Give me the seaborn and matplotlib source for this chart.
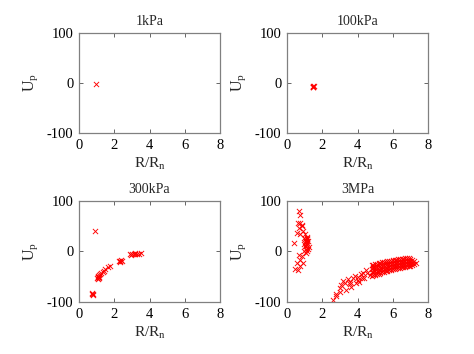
import matplotlib
matplotlib.use("Agg")
import matplotlib.pyplot as plt
import seaborn as sns
import pandas as pd

# Panel by panel (R/Rn, Up)
titles = ["1kPa", "100kPa", "300kPa", "3MPa"]

x_1kpa = [0.95]
y_1kpa = [-2]

x_100kpa = [1.45, 1.50, 1.48, 1.52, 1.47]
y_100kpa = [-7, -8, -9, -7, -8]

x_300kpa = [0.90, 0.75, 0.78, 0.72, 0.80,
            1.05, 1.10, 1.15, 1.10, 1.20, 1.00, 1.15, 1.25, 1.08, 1.12,
            1.35, 1.40, 1.50, 1.65, 1.75,
            2.25, 2.30, 2.35, 2.40, 2.45,
            2.90, 2.95, 3.00, 3.10, 3.15, 3.20, 3.30, 3.40, 3.50]
y_300kpa = [41, -82, -86, -85, -84,
            -50, -48, -52, -55, -45, -53, -47, -43, -51, -50,
            -40, -38, -35, -30, -28,
            -19, -18, -20, -17, -18,
            -5, -6, -4, -5, -3, -4, -5, -4, -3]

# 3MPa: left lobe near R/Rn ~ 1, then the long band on the right
x_3mpa_left = [0.66, 0.71, 0.75, 0.85, 0.66, 0.90, 1.03, 0.75, 0.94, 0.38,
               1.13, 1.16, 1.09, 1.22, 1.13, 0.94, 0.66, 0.85, 0.75, 0.56,
               0.90, 0.71, 0.47, 0.60, 0.64, 0.83, 0.55, 1.11, 1.05, 1.05,
               1.10, 1.15, 1.20, 1.10, 1.00, 1.05, 1.20, 1.15, 1.00, 0.95]
y_3mpa_left = [80, 72, 57, 50, 47, 41, 34, 34, 27, 17,
               24, 17, 11, 8, 1, 1, -6, -9, -16, -22,
               -22, -29, -35, -37, 56, 52, 36, 26, 19, 20,
               15, 12, 5, 5, 10, -2, 20, 28, 25, 15]

x_3mpa_band = [2.61, 2.76, 2.99, 3.08, 3.27, 3.36, 3.55, 3.64, 3.74, 3.93,
               4.02, 4.11, 4.30, 4.39, 4.49, 4.68, 4.86,
               3.20, 3.00, 2.80, 3.45, 3.85, 4.20, 4.55, 3.60, 4.00, 4.25,
               4.8, 4.8, 4.8, 4.8, 4.9, 4.9, 4.9, 4.9, 5.0, 5.0, 5.0, 5.0,
               5.1, 5.1, 5.1, 5.1, 5.2, 5.2, 5.2, 5.2, 5.3, 5.3, 5.3, 5.3,
               5.4, 5.4, 5.4, 5.4, 5.5, 5.5, 5.5, 5.5, 5.6, 5.6, 5.6, 5.6,
               5.7, 5.7, 5.7, 5.7, 5.8, 5.8, 5.8, 5.8, 5.9, 5.9, 5.9, 5.9,
               6.0, 6.0, 6.0, 6.0, 6.1, 6.1, 6.1, 6.1, 6.2, 6.2, 6.2, 6.2,
               6.3, 6.3, 6.3, 6.3, 6.4, 6.4, 6.4, 6.4, 6.5, 6.5, 6.5, 6.5,
               6.6, 6.6, 6.6, 6.6, 6.7, 6.7, 6.7, 6.7, 6.8, 6.8, 6.8, 6.8,
               6.9, 6.9, 6.9, 6.9, 7.0, 7.0, 7.0, 7.0, 7.1, 7.1, 7.1,
               7.2, 7.2, 7.3]
y_3mpa_band = [-96, -89, -80, -67, -63, -76, -60, -70, -53, -63,
               -50, -60, -43, -53, -37, -47, -30,
               -58, -72, -85, -55, -48, -45, -42, -65, -57, -52,
               -27, -34, -41, -48, -26, -33, -40, -47, -25, -32, -39, -46,
               -24, -31, -38, -45, -23, -30, -37, -44, -22, -29, -36, -42,
               -21, -28, -35, -41, -20, -27, -34, -40, -20, -26, -33, -39,
               -19, -25, -32, -38, -18, -24, -31, -37, -18, -24, -30, -36,
               -17, -23, -29, -35, -16, -22, -28, -34, -16, -22, -28, -33,
               -15, -21, -27, -32, -15, -21, -26, -32, -14, -20, -26, -31,
               -14, -20, -25, -30, -13, -19, -25, -30, -13, -19, -24, -29,
               -13, -18, -24, -29, -14, -19, -24, -28, -17, -22, -27,
               -19, -24, -22]

x_3mpa = x_3mpa_left + x_3mpa_band
y_3mpa = y_3mpa_left + y_3mpa_band

x_ticks = [0, 2, 4, 6, 8]
y_ticks = [-100, 0, 100]

sns.set_theme(style="ticks")
plt.rcParams["font.family"] = ["Liberation Serif", "DejaVu Serif"]
plt.rcParams["mathtext.fontset"] = "custom"
plt.rcParams["mathtext.rm"] = "Liberation Serif"
plt.rcParams["mathtext.it"] = "Liberation Serif:italic"
plt.rcParams["axes.unicode_minus"] = False

fig = plt.figure(figsize=(4.74, 3.54), dpi=100)
fig.patch.set_facecolor("white")

positions = [
    [0.1667, 0.6243, 0.2975, 0.2825],
    [0.6055, 0.6243, 0.2975, 0.2825],
    [0.1667, 0.1469, 0.2975, 0.2853],
    [0.6055, 0.1469, 0.2975, 0.2853],
]
data = [(x_1kpa, y_1kpa), (x_100kpa, y_100kpa), (x_300kpa, y_300kpa), (x_3mpa, y_3mpa)]

for pos, title, (xs, ys) in zip(positions, titles, data):
    ax = fig.add_axes(pos)
    df = pd.DataFrame({"r": xs, "u": ys})
    sns.scatterplot(data=df, x="r", y="u", ax=ax, marker="x", color="red",
                    s=14, linewidth=0.65, legend=False)
    ax.set_xlim(0, 8)
    ax.set_ylim(-100, 100)
    ax.set_xticks(x_ticks)
    ax.set_yticks(y_ticks)
    ax.tick_params(direction="in", length=3, width=0.7, color="#666666",
                   top=True, right=True, labelsize=10.5, pad=4, labelcolor="black")
    for sp in ax.spines.values():
        sp.set_color("#808080")
        sp.set_linewidth(0.9)
    ax.set_title(title, fontsize=10, pad=6)
    ax.set_xlabel(r"R/R$_\mathrm{n}$", fontsize=11, labelpad=3)
    ax.set_ylabel(r"U$_\mathrm{p}$", fontsize=11.5, labelpad=5)

fig.savefig("out.png", dpi=100, facecolor="white")
